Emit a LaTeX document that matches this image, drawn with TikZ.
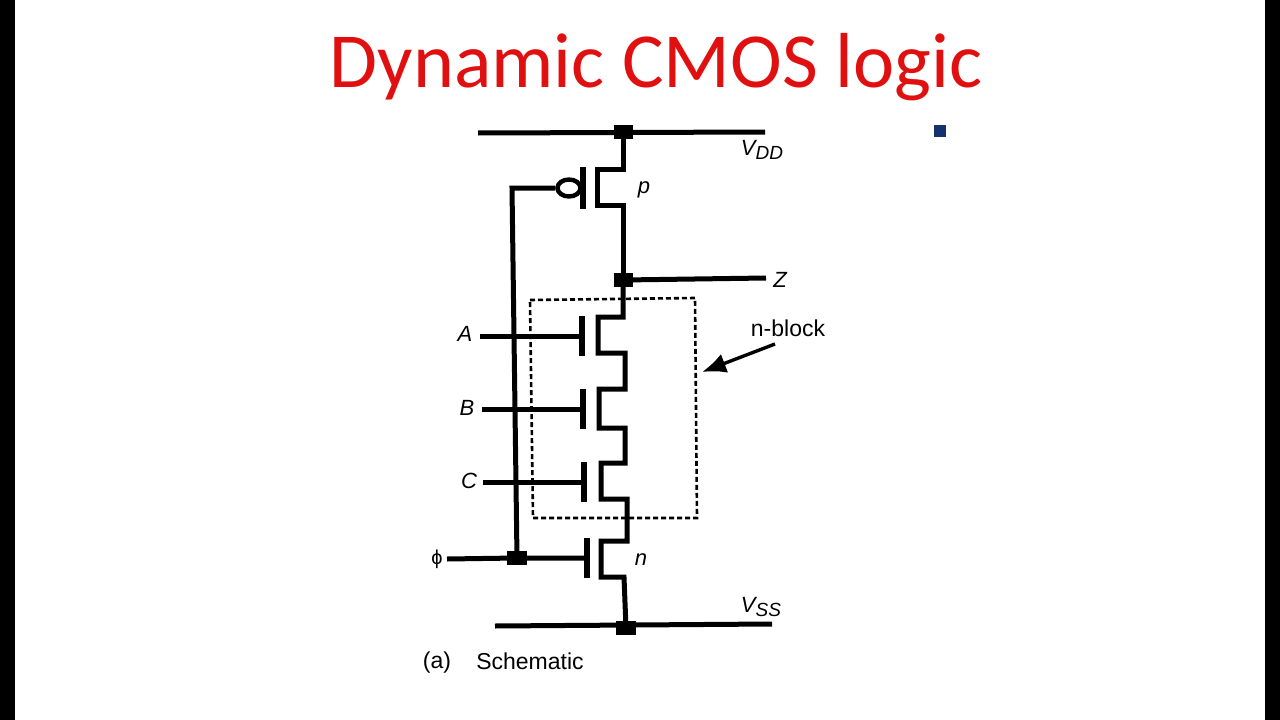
\documentclass[tikz,border=0pt]{standalone}
\usepackage{fontspec}
\setmainfont{Liberation Sans}
\newfontfamily\titlefont{Carlito}
\usepackage{tikz}
\usetikzlibrary{arrows,positioning,calc,arrows.meta,shapes.geometric}
\tikzset{>=latex}
\definecolor{titlered}{RGB}{224,16,16}
\definecolor{bulletblue}{RGB}{20,50,110}
\tikzset{
  wire/.style={line width=5pt,black,line join=miter},
  gatebar/.style={line width=5.4pt,black},
  junction/.style={fill=black,inner sep=0pt,minimum width=#1,minimum height=14pt},
  junction/.default=19pt,
  lab/.style={font=\fontsize{22}{24}\selectfont\itshape,inner sep=0pt},
  caption/.style={font=\fontsize{23}{25}\selectfont,inner sep=0pt}
}
\begin{document}
\begin{tikzpicture}[x=1pt,y=-1pt]
            \fill[white] (0,0) rectangle (1280,720);
            \useasboundingbox (0,0) rectangle (1280,720);
            \fill[black] (0,0) rectangle (15,720);
            \fill[black] (1265,0) rectangle (1280,720);
            \node [titlered,inner sep=0pt] (title) at (656,67) {\titlefont\fontsize{78}{86}\selectfont Dynamic CMOS logic};
            \node [fill=bulletblue,minimum size=12pt,inner sep=0pt] (bullet) at (940,131) {};
            % rails and output
            \node [junction] (jvdd) at (623,132) {};
            \node [junction] (jz) at (623,280) {};
            \node [junction=20pt] (jvss) at (626,628) {};
            \node [junction=20pt] (jphi) at (517,558) {};
            \coordinate (vddl) at (478,133);
            \coordinate (vddr) at (765,132);
            \coordinate (zr) at (766,278);
            \coordinate (vssl) at (495,626);
            \coordinate (vssr) at (772,624);
            \draw [wire] (vddl) -- (vddr);
            \draw [wire] (jz.center) -- (zr);
            \draw [wire] (vssl) -- (vssr);
            % p device
            \coordinate (gp) at (583,188);
            \node [draw=black,line width=4.4pt,ellipse,minimum width=23pt,minimum height=17pt,inner sep=0pt] (bub) at (569,188) {};
            \draw [gatebar] ($(gp)+(0,-21)$) -- ($(gp)+(0,21)$);
            \draw [wire] (bub.east) -- (gp);
            \draw [wire] (jvdd.center) -- (623,169) -- (597,169) -- (597,205) -- (623,205) -- (jz.center);
            % precharge line
            \draw [wire] (bub.west) -- (512,188) -- (jphi.center);
            % series stack
            \draw [wire] (jz.center) -- (623,317) -- (598,317) -- (598,353) -- (625,353) -- (625,389) -- (599,389) -- (599,428) -- (625,428) -- (625,463) -- (601,463) -- (601,499) -- (627,499) -- (627,541) -- (601,541) -- (601,577) -- (624,577) -- (jvss.center);
            % gates
            \coordinate (ga) at (582,336);
            \coordinate (gb) at (583,409);
            \coordinate (gc) at (584,482);
            \coordinate (gn) at (587,558);
            \foreach \g in {ga,gb,gc,gn}
              \draw [gatebar] ($(\g)+(0,-20)$) -- ($(\g)+(0,20)$);
            \coordinate (ina) at (480,336);
            \coordinate (inb) at (482,409);
            \coordinate (inc) at (483,482);
            \coordinate (inphi) at (447,559);
            \draw [wire] (ina) -- (ga);
            \draw [wire] (inb) -- (gb);
            \draw [wire] (inc) -- (gc);
            \draw [wire] (inphi) -- (jphi) -- (gn);
            % n-block
            \draw [line width=2.6pt,dash pattern=on 5pt off 3pt] (530,300) -- (695,298) -- (697,518) -- (533,518) -- cycle;
            \coordinate (arrs) at (775,344);
            \coordinate (arrt) at (702,372);
            \draw [-{Latex[length=24pt,width=20pt]},line width=3.4pt] (arrs) -- (arrt);
            % labels
            \node [lab] (lvdd) at (762,150) {V\raisebox{-4pt}{\fontsize{19}{20}\selectfont DD}};
            \node [lab] (lvss) at (761,607) {V\raisebox{-4pt}{\fontsize{19}{20}\selectfont SS}};
            \node [lab] (lz) at (780,280) {Z};
            \node [lab] (lp) at (644,190) {p};
            \node [lab] (ln) at (641,560) {n};
            \node [lab] (la) at (465,334) {A};
            \node [lab] (lb) at (467,408) {B};
            \node [lab] (lc) at (469,481) {C};
            \node [lab,font=\fontsize{20}{22}\selectfont] (lphi) at (437,559) {\symbol{"03D5}};
            \node [caption] (lblock) at (788,328) {n-block};
            \node [caption] (la2) at (437,663) {(a)};
            \node [caption] (lsch) at (530,661) {Schematic};
\end{tikzpicture}
\end{document}
